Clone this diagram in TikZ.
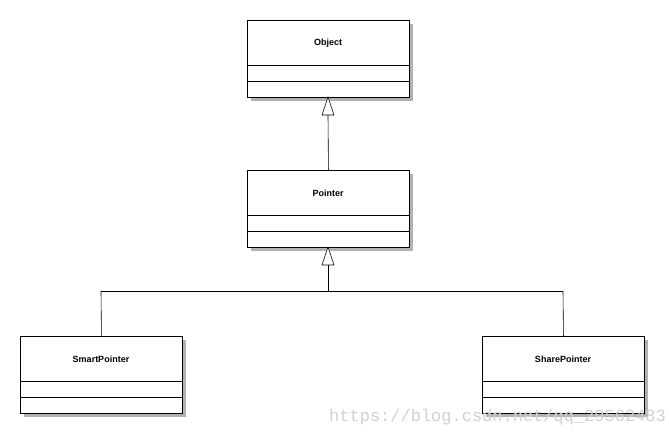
\documentclass[tikz,border=0pt]{standalone}
\usepackage{fontspec}
\setmainfont{Liberation Sans}
\newfontfamily\wmfont{Liberation Mono}
\begin{document}
\begin{tikzpicture}[x=1pt,y=-1pt,
  cls/.style={draw=black,fill=white,line width=0.9pt,minimum width=162pt,minimum height=77pt,inner sep=0pt,anchor=north west},
  inh/.style={draw=black,line width=0.6pt},
  tri/.style={draw=black,fill=white,line width=0.6pt}]
\useasboundingbox (0,0) rectangle (669,438);
\fill[white] (0,0) rectangle (669,438);
\newcommand{\umlbox}[4]{%
  \fill[black!30] (#2+4,#3+4) rectangle (#2+166,#3+81);
  \node[cls] (#1) at (#2,#3) {};
  \draw[line width=0.6pt] (#2,#3+45) -- (#2+162,#3+45);
  \draw[line width=0.6pt] (#2,#3+61) -- (#2+162,#3+61);
  \node[font=\bfseries\fontsize{9}{10}\selectfont] (#1t) at (#2+81,#3+23) {#4};
}
\umlbox{obj}{247}{20}{Object}
\umlbox{ptr}{247}{170}{Pointer}
\umlbox{smart}{20}{336}{SmartPointer}
\umlbox{share}{482}{336}{SharePointer}
\coordinate (t1) at (328,97);
\coordinate (b1) at (328,115);
\coordinate (t2) at (328,247);
\coordinate (b2) at (328,265);
\coordinate (j) at (328,291);
\coordinate (jl) at (101,291);
\coordinate (jr) at (563,291);
\draw[inh] (b1) -- (ptr.north);
\draw[tri] (t1) -- (322,115) -- (334,115) -- cycle;
\draw[inh] (b2) -- (j);
\draw[inh] (jl) -- (jr);
\draw[inh] (jl) -- (smart.north);
\draw[inh] (jr) -- (share.north);
\draw[tri] (t2) -- (322,265) -- (334,265) -- cycle;
\node[anchor=base west,inner sep=0pt,text=black!18,font=\wmfont\fontsize{17}{17}\selectfont] (wm) at (329,421) {https://blog.csdn.net/qq\_29562483};
\end{tikzpicture}
\end{document}
